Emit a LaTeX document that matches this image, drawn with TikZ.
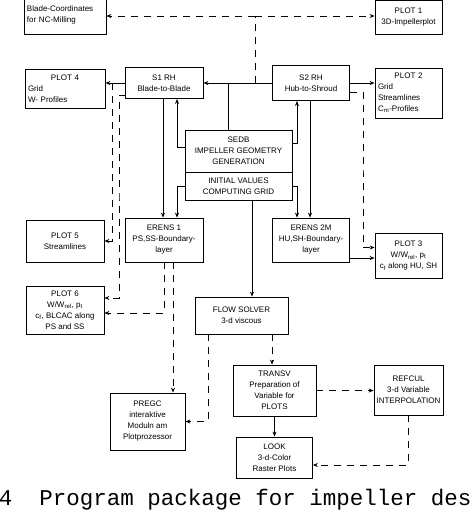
\documentclass[tikz,border=0pt]{standalone}
\usepackage{fontspec}
\usepackage{tikz}
\usetikzlibrary{positioning, arrows.meta}
\newfontfamily\boxfont{Liberation Sans}
\newfontfamily\capfont{Liberation Mono}

\begin{document}
\begin{tikzpicture}[x=1pt, y=-1pt, line width=0.8pt, >={Stealth[length=5pt,width=4pt]}, on grid,
    box/.style={draw, inner sep=2pt, align=center, font=\boxfont\fontsize{8}{11}\selectfont},
    leftbox/.style={box, align=left},
    link/.style={dash pattern=on 7pt off 6pt}]
  \useasboundingbox (0,0) rectangle (474,517);
  % upper row
  \node[leftbox, minimum width=80pt, minimum height=39pt, text width=74pt] (plot4) at (65,88.5)
    {\makebox[\linewidth]{PLOT 4}\\Grid\\W- Profiles};
  \node[leftbox, minimum width=82pt, minimum height=38pt, text width=76pt] (blade) [above=73.5pt of plot4]
    {Blade-Coordinates\\for NC-Milling};
  \node[box, minimum width=78pt, minimum height=31pt] (s1rh) at (164,83) {S1 RH\\Blade-to-Blade};
  \node[box, minimum width=77pt, minimum height=35pt] (s2rh) at (311,83) {S2 RH\\Hub-to-Shroud};
  \node[leftbox, minimum width=67pt, minimum height=50pt, text width=61pt] (plot2) at (408.5,93)
    {\makebox[\linewidth]{PLOT 2}\\Grid\\Streamlines\\C\textsubscript{m}-Profiles};
  \node[box, minimum width=67pt, minimum height=34pt] (plot1) [above=76pt of plot2] {PLOT 1\\3D-Impellerplot};
  % geometry
  \node[box, minimum width=107pt, minimum height=42pt] (sedb) at (238.5,151) {SEDB\\IMPELLER GEOMETRY\\GENERATION};
  \node[box, minimum width=107pt, minimum height=28pt] (init) [below=35pt of sedb] {INITIAL VALUES\\COMPUTING GRID};
  % boundary layers and plots
  \node[box, minimum width=78pt, minimum height=44pt] (erens1) [below=157pt of s1rh] {ERENS 1\\PS,SS-Boundary-\\layer};
  \node[box, minimum width=77pt, minimum height=44pt] (erens2m) [below=157pt of s2rh] {ERENS 2M\\HU,SH-Boundary-\\layer};
  \node[box, minimum width=67pt, minimum height=45pt] (plot3) [below=162.5pt of plot2]
    {PLOT 3\\W/W\textsubscript{rel}, p\textsubscript{t}\\c\textsubscript{f} along HU, SH};
  \node[box, minimum width=78pt, minimum height=42pt] (plot5) [below=152.5pt of plot4] {PLOT 5\\Streamlines};
  \node[box, minimum width=78pt, minimum height=48pt] (plot6) [below=69pt of plot5]
    {PLOT 6\\W/W\textsubscript{rel}, p\textsubscript{t}\\c\textsubscript{f}, BLCAC along\\PS and SS};
  % solver and post-processing
  \node[box, minimum width=93pt, minimum height=37pt] (flow) at (241.5,315.5) {FLOW SOLVER\\3-d viscous};
  \node[box, minimum width=83pt, minimum height=51pt] (transv) at (274.5,390.5) {TRANSV\\Preparation of\\Variable for\\PLOTS};
  \node[box, minimum width=76pt, minimum height=41pt] (look) [below=67pt of transv] {LOOK\\3-d-Color\\Raster Plots};
  \node[box, minimum width=69pt, minimum height=50pt] (refcul) [below=134.5pt of plot3] {REFCUL\\3-d Variable\\INTERPOLATION};
  \node[box, minimum width=75pt, minimum height=57pt] (pregc) at (147.5,421.5) {PREGC\\interaktive\\Moduln am\\Plotprozessor};
  \node[anchor=base west, inner sep=0pt, font=\capfont\fontsize{22.5}{24}\selectfont] (caption) at (-1.5,505)
    {4~~Program package for impeller des};

  \coordinate (j1) at (228,83);
  \coordinate (j2) at (255,83);
  \coordinate (top) at (255,16);
  \coordinate (busA) at (112,83);
  \coordinate (busB) at (119,200);
  \coordinate (busC) at (363,170);

  \draw[->] (s2rh.west) -- (s1rh.east);
  \draw (j1) -- (j1 |- sedb.north);
  \draw[link] (j2) -- (top);
  \draw[link, ->] (top) -- (top -| blade.east);
  \draw[link, ->] (top) -- (top -| plot1.west);
  \draw[->] (s1rh.west) -- (s1rh.west -| plot4.east);
  \draw[link, ->] (busA) |- (plot5.east);
  \draw[link, ->] ([yshift=-12pt]s1rh.west) -| (busB) |- ([yshift=12pt]plot6.east);
  \draw[->] ([xshift=-1pt]s1rh.south) -- ([xshift=-1pt]erens1.north);
  \draw[->] ([yshift=4pt]sedb.west) -| ([xshift=13pt]s1rh.south);
  \draw[->] ([yshift=8pt]sedb.east) -| ([xshift=-14pt]s2rh.south);
  \draw[->] ([xshift=-1pt]s2rh.south) -- ([xshift=-1pt]erens2m.north);
  \draw[->] (init.west) -| ([xshift=13pt]erens1.north);
  \draw[->] (init.east) -| ([xshift=-14pt]erens2m.north);
  \draw[->] ([xshift=13.5pt]init.south) -- ([xshift=10.5pt]flow.north);
  \draw[->] (s2rh.east) -- (s2rh.east -| plot2.west);
  \draw[link, ->] ([yshift=-9pt]s2rh.east) -| (busC) |- ([yshift=8pt]plot3.west);
  \draw[->] ([yshift=-18pt]erens2m.east) -- ([yshift=-18pt]erens2m.east -| plot3.west);
  \draw[link, ->] (erens1.south) |- ([yshift=-3pt]plot6.east);
  \draw[link, ->] ([xshift=9pt]erens1.south) -- ([xshift=9pt]erens1.south |- pregc.north);
  \draw[link, ->] ([xshift=30.5pt]flow.south) -- ([xshift=30.5pt]flow.south |- transv.north);
  \draw[link, ->] ([xshift=-33.5pt]flow.south) |- (pregc.east);
  \draw[link, ->] (transv.east) -- (transv.east -| refcul.west);
  \draw[->] (transv.south) -- (transv.south |- look.north);
  \draw[link, ->] (refcul.south) |- ([yshift=-7.5pt]look.east);
\end{tikzpicture}
\end{document}
